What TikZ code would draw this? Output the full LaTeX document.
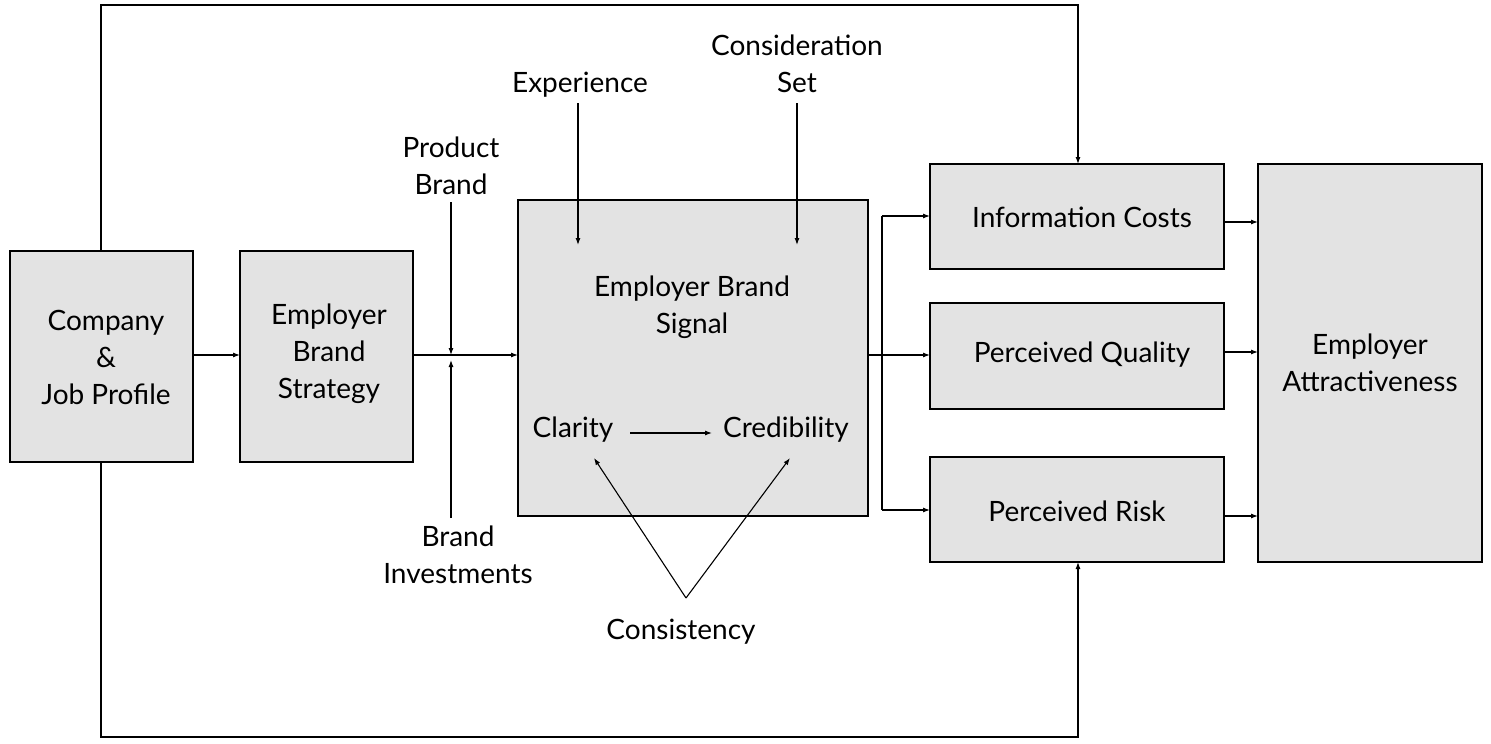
\documentclass[tikz,border=0pt]{standalone}
\usepackage{fontspec}
\setmainfont{Lato}
\usetikzlibrary{arrows.meta}
\begin{document}
\begin{tikzpicture}[x=1pt,y=-1pt,line width=1.1pt,
  box/.style={draw,fill=gray!22,line width=1.2pt},
  lbl/.style={font=\fontsize{28}{37}\selectfont,align=center,inner sep=1pt},
  arr/.style={-{Latex[length=7pt,width=5pt]}}]
\useasboundingbox (0,0) rectangle (1491,744);
\draw[box] (10,251) rectangle (193,462);
\draw[box] (240,251) rectangle (413,462);
\draw[box] (518,200) rectangle (868,516);
\draw[box] (930,164) rectangle (1224,269);
\draw[box] (930,303) rectangle (1224,409);
\draw[box] (930,457) rectangle (1224,562);
\draw[box] (1258,164) rectangle (1482,562);
\node[lbl] (comp) at (106,357) {Company\\\&\\Job Profile};
\node[lbl] (strat) at (329,354) {Employer\\Brand\\Strategy};
\node[lbl] (sig) at (692,307) {Employer Brand\\Signal};
\node[lbl] (info) at (1082,217) {Information Costs};
\node[lbl] (qual) at (1082,355) {Perceived Quality};
\node[lbl] (risk) at (1077,511) {Perceived Risk};
\node[lbl] (attr) at (1370,363) {Employer\\Attractiveness};
\node[lbl] (prod) at (451,166) {Product\\Brand};
\node[lbl] (inv) at (458,555) {Brand\\Investments};
\node[lbl] (exp) at (580,85) {Experience};
\node[lbl] (cons) at (797,64) {Consideration\\Set};
\node[lbl] (clar) at (573,430) {Clarity};
\node[lbl] (cred) at (786,430) {Credibility};
\node[lbl] (consi) at (681,632) {Consistency};
\coordinate (c1) at (101,462);
\coordinate (c0) at (101,251);
\coordinate (apex) at (686,598);
\draw[arr] (c1) -- (101,737) -- (1078,737) -- (1078,562);
\draw[arr] (c0) -- (101,5) -- (1078,5) -- (1078,164);
\draw[arr] (193,355) -- (240,355);
\draw[arr] (413,355) -- (518,355);
\draw[arr] (451,202) -- (451,355);
\draw[arr] (451,518) -- (451,360);
\draw[arr] (578,103) -- (578,245);
\draw[arr] (797,103) -- (797,245);
\draw[arr] (630,433) -- (712,433);
\draw[arr] (apex) -- (594,458);
\draw[arr] (apex) -- (790,458);
\draw (868,355) -- (882,355);
\draw (882,216) -- (882,510);
\draw[arr] (882,216) -- (930,216);
\draw[arr] (882,355) -- (930,355);
\draw[arr] (882,510) -- (930,510);
\draw[arr] (1224,222) -- (1258,222);
\draw[arr] (1224,352) -- (1258,352);
\draw[arr] (1224,516) -- (1258,516);
\end{tikzpicture}
\end{document}
